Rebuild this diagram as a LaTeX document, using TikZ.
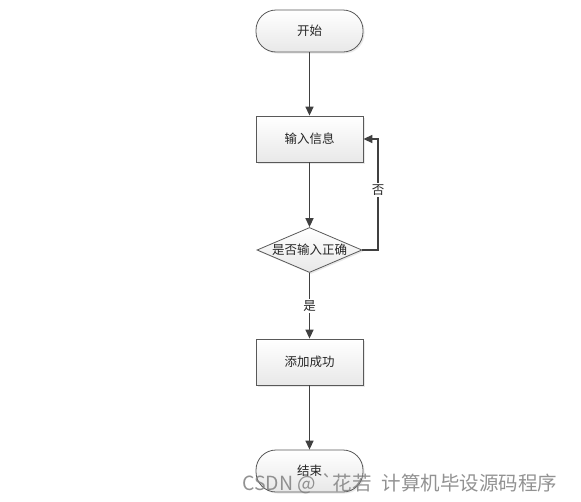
\documentclass[tikz,border=0pt]{standalone}
\usepackage{fontspec}
\newfontfamily\cjk{Noto Sans CJK SC}
\usetikzlibrary{shapes.geometric,arrows.meta,shadows}
\tikzset{
  flow/.style={draw=black!65, line width=0.8pt, top color=white, bottom color=black!9,
    font=\cjk\fontsize{12.5}{14}\selectfont, text=black!85,
    drop shadow={opacity=.18, shadow xshift=1.5pt, shadow yshift=-1.5pt}},
  term/.style={flow, rectangle, rounded corners=20pt, minimum width=107pt, minimum height=42pt},
  proc/.style={flow, rectangle, minimum width=107pt, minimum height=46pt},
  dia/.style={flow, diamond, inner sep=0pt, minimum width=105pt, minimum height=45pt},
  arr/.style={draw=black!75, line width=1.4pt, -{Triangle[width=8pt,length=9pt]}},
  lbl/.style={fill=white, inner sep=1.5pt, font=\cjk\fontsize{12.5}{14}\selectfont, text=black!85}
}
\begin{document}
\begin{tikzpicture}[x=1pt,y=-1pt]
\useasboundingbox[fill=white] (0,0) rectangle (581,501);
\node[term] (start) at (309.5,31) {开始};
\node[proc] (in) at (309.5,139) {输入信息};
\node[dia] (chk) at (309.5,250) {};
\node[font=\cjk\fontsize{12.5}{14}\selectfont, text=black!85, inner sep=0pt] (chkt) at (chk) {是否输入正确};
\node[proc] (add) at (309.5,362) {添加成功};
\node[term] (stop) at (309.5,471) {结束};
\coordinate (bend) at (378,250);

\draw[arr] (start) -- (in);
\draw[arr] (in) -- (chk);
\draw[arr] (chk.east) -- (bend) |- (in.east);
\node[lbl] (no) at (378,190) {否};
\draw[arr] (chk) -- (add) node[lbl, midway] (yes) {是};
\draw[arr] (add) -- (stop);

\node[anchor=west, font=\cjk\fontsize{19.5}{22}\selectfont, text=black!50, text opacity=.85, inner sep=0pt] (mark) at (242,484) {CSDN @\hspace{5pt}`花若\hspace{10pt}计算机毕设源码程序};
\end{tikzpicture}
\end{document}
